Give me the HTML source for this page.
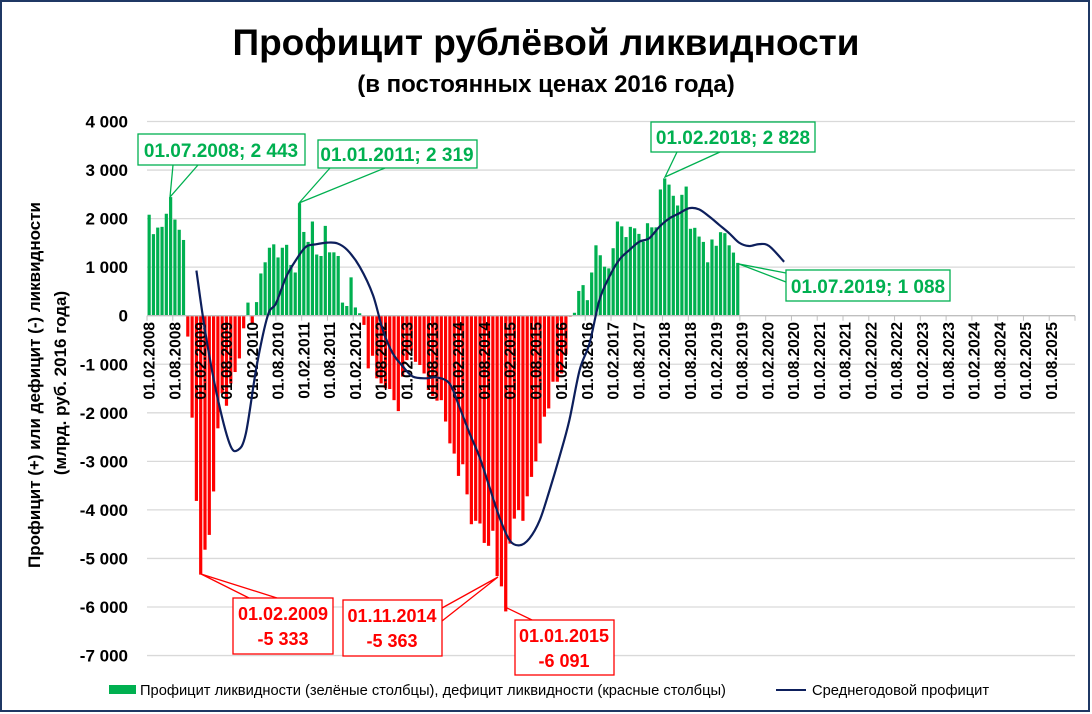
<!DOCTYPE html>
<html><head><meta charset="utf-8">
<style>
html,body{margin:0;padding:0;background:#fff;}
#wrap{position:relative;width:1092px;height:714px;overflow:hidden;}
svg text{font-family:"Liberation Sans","DejaVu Sans",sans-serif;}
</style></head>
<body>
<div id="wrap">
<svg id="chart" width="1092" height="714" viewBox="0 0 1092 714">
  <rect x="1" y="1" width="1088" height="710" fill="#fff" stroke="#1f3864" stroke-width="2"/>
  <text x="546" y="55" text-anchor="middle" font-size="37" font-weight="bold" fill="#000">Профицит рублёвой ликвидности</text>
  <text x="546" y="92" text-anchor="middle" font-size="24" font-weight="bold" fill="#000">(в постоянных ценах 2016 года)</text>
  <text transform="translate(40,385) rotate(-90)" text-anchor="middle" font-size="17" font-weight="bold">Профицит (+) или дефицит (-) ликвидности</text>
  <text transform="translate(66,383) rotate(-90)" text-anchor="middle" font-size="17" font-weight="bold">(млрд. руб. 2016 года)</text>
  <g id="grid"></g>
  <g id="bars"></g>
  <g id="axis"></g>
  <g id="line"></g>
  <g id="ann">
    <polyline points="173,165 170,197 198,165" fill="none" stroke="#00b050" stroke-width="1.3"/>
    <rect x="138" y="134" width="167" height="31" fill="#fff" stroke="#00b050" stroke-width="1.3"/>
    <text x="221" y="157" text-anchor="middle" font-size="19" font-weight="bold" fill="#00b050">01.07.2008; 2 443</text>
    <polyline points="330,168 299,203 385,168" fill="none" stroke="#00b050" stroke-width="1.3"/>
    <rect x="318" y="140" width="159" height="28" fill="#fff" stroke="#00b050" stroke-width="1.3"/>
    <text x="397" y="161" text-anchor="middle" font-size="19" font-weight="bold" fill="#00b050">01.01.2011; 2 319</text>
    <polyline points="677,152 665,177 720,152" fill="none" stroke="#00b050" stroke-width="1.3"/>
    <rect x="651" y="122" width="164" height="30" fill="#fff" stroke="#00b050" stroke-width="1.3"/>
    <text x="733" y="144" text-anchor="middle" font-size="19" font-weight="bold" fill="#00b050">01.02.2018; 2 828</text>
    <polyline points="786,273 739,264 786,282" fill="none" stroke="#00b050" stroke-width="1.3"/>
    <rect x="786" y="270" width="164" height="31" fill="#fff" stroke="#00b050" stroke-width="1.3"/>
    <text x="868" y="293" text-anchor="middle" font-size="19" font-weight="bold" fill="#00b050">01.07.2019; 1 088</text>
    <polyline points="249,598 201,574 277,598" fill="none" stroke="#f00" stroke-width="1.3"/>
    <rect x="233" y="598" width="100" height="56" fill="#fff" stroke="#f00" stroke-width="1.3"/>
    <text x="283" y="620" text-anchor="middle" font-size="18" font-weight="bold" fill="#f00">01.02.2009</text>
    <text x="283" y="645" text-anchor="middle" font-size="18" font-weight="bold" fill="#f00">-5 333</text>
    <polyline points="442,608 498,577 442,621" fill="none" stroke="#f00" stroke-width="1.3"/>
    <rect x="343" y="600" width="99" height="56" fill="#fff" stroke="#f00" stroke-width="1.3"/>
    <text x="392" y="622" text-anchor="middle" font-size="18" font-weight="bold" fill="#f00">01.11.2014</text>
    <text x="392" y="647" text-anchor="middle" font-size="18" font-weight="bold" fill="#f00">-5 363</text>
    <polyline points="532,620 505,607 505,580" fill="none" stroke="#f00" stroke-width="1.3"/>
    <rect x="515" y="620" width="99" height="55" fill="#fff" stroke="#f00" stroke-width="1.3"/>
    <text x="564" y="642" text-anchor="middle" font-size="18" font-weight="bold" fill="#f00">01.01.2015</text>
    <text x="564" y="667" text-anchor="middle" font-size="18" font-weight="bold" fill="#f00">-6 091</text>
  </g>
  <g>
    <rect x="109" y="685" width="27" height="9" fill="#00b050"/>
    <text x="140" y="695" font-size="14.7" fill="#000">Профицит ликвидности (зелёные столбцы), дефицит ликвидности (красные столбцы)</text>
    <line x1="776" y1="690" x2="806" y2="690" stroke="#0d1f5c" stroke-width="2"/>
    <text x="812" y="695" font-size="14.7" fill="#000">Среднегодовой профицит</text>
  </g>
</svg>
</div>
<script>
// Monthly values starting 01.02.2008
const barValues = [2080,1680,1815,1830,2100,2443,1980,1770,1560,-430,-2100,-3815,
-5333,-4820,-4515,-3620,-2320,-1600,-1855,-1400,-1160,-880,-260,270,
-170,280,870,1100,1400,1470,1200,1400,1460,1045,890,2319,
1725,1520,1940,1260,1230,1850,1305,1305,1230,270,200,790,
170,50,-190,-1085,-825,-1290,-1395,-1495,-1510,-1740,-1965,-1255,
-915,-720,-950,-1015,-1190,-1530,-1655,-1750,-1740,-2180,-2630,-2840,
-3300,-3060,-3680,-4295,-4225,-4280,-4680,-4740,-4430,-5363,-5575,-6091,
-4695,-4180,-4005,-4225,-3720,-3320,-3000,-2630,-2080,-1910,-1360,-1360,
-1190,-800,-20,60,510,630,320,890,1450,1245,1010,975,
1390,1940,1840,1620,1830,1800,1685,1525,1905,1820,1820,2600,
2828,2700,2470,2270,2490,2660,1790,1810,1630,1520,1100,1570,
1440,1720,1700,1450,1300,1088];
// Average line: month index (from 01.02.2008) and value
const lineMonths = [11,13,15.7,18.7,20.6,22.5,25,27.6,29.5,31.9,34.2,36.5,38.8,41.5,43.8,46.1,49,52.1,54.4,56.7,59.1,61.4,64.5,66.8,69.9,72.2,74.6,76.9,79.2,81.5,83.9,86.2,88.5,90.9,93.2,95.5,97.8,100.2,102.5,104.8,107.1,109.4,111.8,114.1,116.4,118.8,121.1,123.4,125.7,128,130.4,132.7,135,137.3,139.6,142,144.3,147.8];
const lineValues = [930,-300,-1600,-2630,-2770,-2430,-1050,0,250,800,1150,1420,1470,1505,1490,1355,1010,425,-300,-775,-1050,-1255,-1290,-1270,-1395,-1875,-2425,-2910,-3525,-4145,-4625,-4730,-4590,-4215,-3595,-2910,-2155,-1120,-570,320,800,1150,1355,1525,1595,1835,2005,2110,2215,2190,2040,1870,1700,1505,1435,1475,1435,1110];
const yTicks = [4000,3000,2000,1000,0,-1000,-2000,-3000,-4000,-5000,-6000,-7000];
const yTickLabels = ["4 000","3 000","2 000","1 000","0","-1 000","-2 000","-3 000","-4 000","-5 000","-6 000","-7 000"];
const xYears = [2008,2009,2010,2011,2012,2013,2014,2015,2016,2017,2018,2019,2020,2021,2022,2023,2024,2025];

const NS="http://www.w3.org/2000/svg";
const PL=147, PR=1075, NM=216, STEP=(PR-PL)/NM;
function xOf(n){return PL+STEP*(n+0.5);}
function yOf(v){return 315.7 - v*0.04855;}
function mk(tag,attrs,parent){const e=document.createElementNS(NS,tag);for(const k in attrs)e.setAttribute(k,attrs[k]);parent.appendChild(e);return e;}

const grid=document.getElementById('grid');
yTicks.forEach((v,i)=>{
  if(v!==0){
    const g=mk('line',{x1:PL,x2:PR,y1:yOf(v),y2:yOf(v),stroke:'#d9d9d9','stroke-width':1.3},grid);
    
    
  }
  const t=mk('text',{x:128,y:yOf(v)+6,'text-anchor':'end','font-size':17,'font-weight':'bold'},grid);
  t.textContent=yTickLabels[i];
  
  
});

const bars=document.getElementById('bars');
barValues.forEach((v,n)=>{
  const y0=yOf(0), y1=yOf(v);
  const r=mk('rect',{x:xOf(n)-1.6,width:3.2,y:Math.min(y0,y1),height:Math.abs(y1-y0),fill:v>=0?'#00b050':'#ff0000'},bars);
  
  
});

const axis=document.getElementById('axis');
const ax=mk('line',{x1:PL,x2:PR,y1:yOf(0),y2:yOf(0),stroke:'#bfbfbf','stroke-width':1.3},axis);


for(let k=0;k<=NM;k+=6){
  const tk=mk('line',{x1:PL+STEP*k,x2:PL+STEP*k,y1:yOf(0),y2:yOf(0)+5,stroke:'#bfbfbf','stroke-width':1},axis);
  
  
}
xYears.forEach((yr,i)=>{
  [["02",0],["08",6]].forEach(([m,off])=>{
    const n=(yr-2008)*12+off;
    const x=xOf(n)+5.5;
    const t=mk('text',{transform:`translate(${x},322) rotate(-90)`,'text-anchor':'end','font-size':15.5,'font-weight':'bold'},axis);
    t.textContent=`01.${m}.${yr}`;
    
    
  });
});

const lineG=document.getElementById('line');
const pts=lineMonths.map((m,i)=>[xOf(m),yOf(lineValues[i])]);
let d=`M${pts[0][0]},${pts[0][1]}`;
for(let i=0;i<pts.length-1;i++){
  const p0=pts[Math.max(0,i-1)],p1=pts[i],p2=pts[i+1],p3=pts[Math.min(pts.length-1,i+2)];
  const c1=[p1[0]+(p2[0]-p0[0])/6,p1[1]+(p2[1]-p0[1])/6];
  const c2=[p2[0]-(p3[0]-p1[0])/6,p2[1]-(p3[1]-p1[1])/6];
  d+=` C${c1[0]},${c1[1]} ${c2[0]},${c2[1]} ${p2[0]},${p2[1]}`;
}
const pl=mk('path',{d:d,fill:'none',stroke:'#0d1f5c','stroke-width':2.2},lineG);


</script>
</body></html>
